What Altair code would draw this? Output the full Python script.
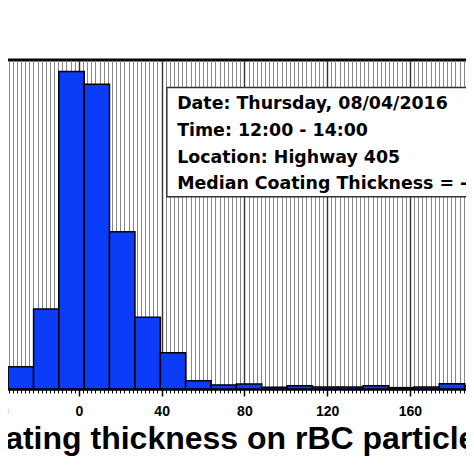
import altair as alt
import pandas as pd

# Histogram bins (coating thickness, nm) and bar heights (arbitrary frequency units)
bin_start = [-46.5, -34.2, -21.9, -9.7, 2.6, 14.8, 27.1, 39.4, 51.6, 63.9, 76.1, 88.4,
             100.7, 112.9, 125.2, 137.4, 149.7, 162.0, 174.2, 186.5]
bin_end = [-34.2, -21.9, -9.7, 2.6, 14.8, 27.1, 39.4, 51.6, 63.9, 76.1, 88.4, 100.7,
           112.9, 125.2, 137.4, 149.7, 162.0, 174.2, 186.5, 198.7]
frequency = [0.11, 0.81, 2.92, 11.58, 11.12, 5.74, 2.62, 1.32, 0.30, 0.15, 0.18, 0.06,
             0.12, 0.07, 0.07, 0.12, 0.05, 0.07, 0.19, 0.13]

major_ticks = [-40, 0, 40, 80, 120, 160]
minor_ticks = [v for v in range(-42, 192, 2) if v % 40 != 0]
y_grid = list(range(0, 13))

box_lines = ["Date: Thursday, 08/04/2016", "Time: 12:00 - 14:00",
             "Location: Highway 405", "Median Coating Thickness = -"]
box_line_y = [10.21, 9.23, 8.25, 7.29]
box_x = 47.5
box_left, box_right, box_bottom, box_top = 42.5, 260, 7.01, 11.0

x_title = "Coating thickness on rBC particles (nm)"

bars_df = pd.DataFrame({"start": bin_start, "end": bin_end, "freq": frequency})
major_df = pd.DataFrame({"v": major_ticks})
text_df = pd.DataFrame({"label": box_lines, "y": box_line_y, "x": [box_x] * len(box_lines)})
box_df = pd.DataFrame({"x": [box_left], "x2": [box_right], "y": [box_bottom], "y2": [box_top]})

xscale = alt.Scale(domain=[-42, 191], nice=False, zero=False)
yscale = alt.Scale(domain=[0, 12], nice=False, zero=False)

minor_axis = alt.Axis(orient="bottom", values=minor_ticks, grid=True, gridColor="#7a7a7a",
                      gridWidth=0.9, labels=False, tickSize=4, tickColor="black", tickWidth=1,
                      domain=True, domainColor="black", domainWidth=2, title=None)
major_axis = alt.Axis(orient="bottom", values=major_ticks, grid=True, gridColor="#333333",
                      gridWidth=1.4, labels=True, labelFont="Liberation Sans",
                      labelFontSize=14, labelFontWeight="bold", labelColor="black",
                      labelPadding=8, tickSize=7, tickColor="black", tickWidth=1.5,
                      domain=False, title=x_title, titleFont="Liberation Sans",
                      titleFontSize=32, titleFontWeight="bold", titleColor="black",
                      titleAlign="left", titleBaseline="alphabetic", titleX=-30, titleY=59,
                      titleAngle=0)
y_axis = alt.Axis(orient="left", values=y_grid, grid=True, gridColor="#505050", gridWidth=0.9,
                  labels=False, ticks=False, domain=False, title=None)

bars = alt.Chart(bars_df).mark_bar(color="#0b3cf7", stroke="black", strokeWidth=1.5, clip=True).encode(
    x=alt.X("start:Q", scale=xscale, axis=minor_axis),
    x2="end:Q",
    y=alt.Y("freq:Q", scale=yscale, axis=y_axis),
    y2=alt.datum(0),
)

major = alt.Chart(major_df).mark_rule(opacity=0).encode(
    x=alt.X("v:Q", scale=xscale, axis=major_axis),
)

box = alt.Chart(box_df).mark_rect(fill="white", stroke="#333333", strokeWidth=1.5, clip=True).encode(
    x=alt.X("x:Q", scale=xscale, axis=None),
    x2="x2:Q",
    y=alt.Y("y:Q", scale=yscale, axis=None),
    y2="y2:Q",
)

texts = alt.Chart(text_df).mark_text(font="DejaVu Sans", fontWeight="bold", fontSize=17.4,
                                     align="left", baseline="alphabetic", color="black").encode(
    x=alt.X("x:Q", scale=xscale, axis=None),
    y=alt.Y("y:Q", scale=yscale, axis=None),
    text="label:N",
)

chart = alt.layer(bars, major, box, texts).resolve_axis(x="independent").properties(
    width=482,
    height=329,
    padding={"left": -16, "top": 52, "right": -8, "bottom": 77},
    autosize=alt.AutoSizeParams(type="none"),
    background="white",
).configure_view(stroke="black", strokeWidth=3)

chart.save("out.html", embed_options={"renderer": "svg", "actions": False})
